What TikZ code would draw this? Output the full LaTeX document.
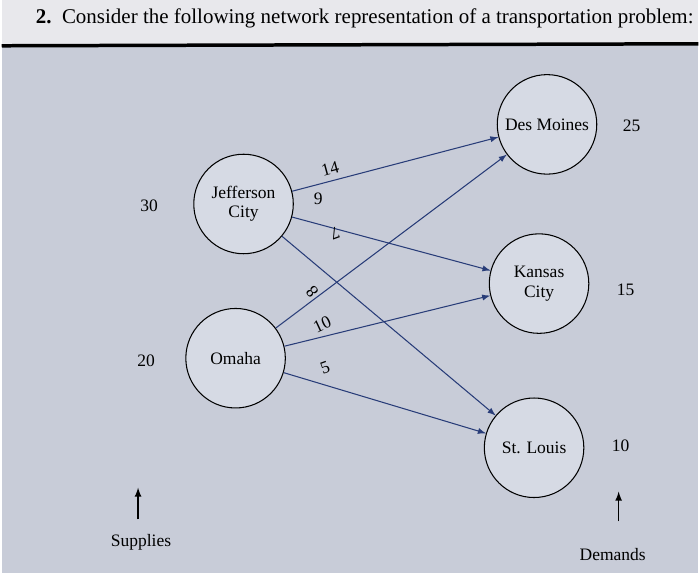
\documentclass[tikz,border=0pt]{standalone}
\usepackage{fontspec}
\setmainfont{Liberation Serif}
\begin{document}
\begin{tikzpicture}[x=0.02cm,y=-0.02cm,
  city/.style={circle,draw=black,line width=0.6pt,fill=nodefill,minimum size=100*0.02cm,inner sep=0pt,align=center,font=\fontsize{10}{11}\selectfont},
  flow/.style={-latex,draw=edgeblue,line width=0.6pt},
  lab/.style={font=\fontsize{10}{11}\selectfont},
  num/.style={font=\fontsize{10}{11}\selectfont}]
\definecolor{pagebg}{RGB}{200,204,216}
\definecolor{topbg}{RGB}{232,232,236}
\definecolor{nodefill}{RGB}{214,218,228}
\definecolor{edgeblue}{RGB}{40,60,120}
\fill[pagebg] (0,0) rectangle (700,576);
\fill[topbg] (0,0) rectangle (700,45);
\draw[line width=2pt] (0,46) -- (700,44);
\node[anchor=west,font=\fontsize{12}{14}\selectfont] (title) at (28,18) {\textbf{2.}\ \ Consider the following network representation of a transportation problem:};
\node[city] (jc) at (243,205) {Jefferson\\City};
\node[city] (om) at (235,360) {Omaha};
\node[city] (dm) at (548,125) {Des Moines};
\node[city] (kc) at (540,285) {Kansas\\City};
\node[city] (sl) at (535,450) {St. Louis};
\draw[flow] (jc) -- (dm);
\draw[flow] (jc) -- (kc);
\draw[flow] (jc) -- (sl);
\draw[flow] (om) -- (dm);
\draw[flow] (om) -- (kc);
\draw[flow] (om) -- (sl);
\node[lab,rotate=15] (l14) at (330,170) {14};
\node[lab] (l9) at (318,200) {9};
\node[lab,rotate=200] (l7) at (335,235) {7};
\node[lab,rotate=130] (l8) at (312,293) {8};
\node[lab,rotate=25] (l10) at (322,326) {10};
\node[lab,rotate=20] (l5) at (325,370) {5};
\node[num] (s30) at (148,207) {30};
\node[num] (s20) at (145,363) {20};
\node[num] (d25) at (633,126) {25};
\node[num] (d15) at (627,291) {15};
\node[num] (d10) at (622,448) {10};
\node[lab] (sup) at (140,545) {Supplies};
\node[lab] (dem) at (614,557) {Demands};
\coordinate (sa) at (137,490);
\coordinate (sb) at (137,522);
\coordinate (da) at (620,494);
\coordinate (db) at (620,524);
\draw[-latex,line width=0.8pt] (sb) -- (sa);
\draw[-latex,line width=0.8pt] (db) -- (da);
\end{tikzpicture}
\end{document}
